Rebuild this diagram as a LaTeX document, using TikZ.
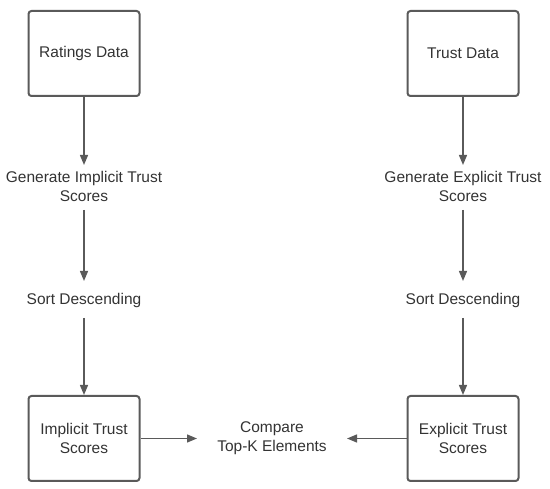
\documentclass[tikz,border=0pt]{standalone}
\usepackage{fontspec}
\setmainfont{Liberation Sans}
\usetikzlibrary{arrows.meta}
\definecolor{linec}{HTML}{5A5A5A}
\definecolor{textc}{HTML}{333333}
\begin{document}
\begin{tikzpicture}[x=1pt,y=-1pt,
  box/.style={draw=linec,line width=2pt,rounded corners=3pt,minimum width=111pt,minimum height=85pt,align=center,text=textc,font=\fontsize{15.5}{19}\selectfont},
  lbl/.style={align=center,text=textc,font=\fontsize{15.5}{19.5}\selectfont},
  conn/.style={draw=linec,line width=1.3pt,-{Triangle[length=10pt,width=8pt]}}]
\useasboundingbox (0,0) rectangle (550,489);
\node[box] (rd) at (84,53.5) {Ratings Data};
\node[box] (td) at (463,53.5) {Trust Data};
\node[lbl] (gi) at (84,186.5) {Generate Implicit Trust\\Scores};
\node[lbl] (ge) at (463,186.5) {Generate Explicit Trust\\Scores};
\node[lbl] (si) at (84,300) {Sort Descending};
\node[lbl] (se) at (463,300) {Sort Descending};
\node[box] (it) at (84,438.5) {Implicit Trust\\Scores};
\node[box] (et) at (463,438.5) {Explicit Trust\\Scores};
\node[lbl] (cmp) at (272,438) {Compare\\Top-K Elements};
\coordinate (a1) at (84,165);
\coordinate (a2) at (463,165);
\coordinate (b1) at (84,210);
\coordinate (b2) at (84,281);
\coordinate (c1) at (463,210);
\coordinate (c2) at (463,281);
\coordinate (d1) at (84,318);
\coordinate (d2) at (463,318);
\coordinate (e1) at (197,438.5);
\coordinate (e2) at (347,438.5);
\draw[conn] (rd.south) -- (a1);
\draw[conn] (td.south) -- (a2);
\draw[conn] (b1) -- (b2);
\draw[conn] (c1) -- (c2);
\draw[conn] (d1) -- (it.north);
\draw[conn] (d2) -- (et.north);
\draw[conn] (it.east) -- (e1);
\draw[conn] (et.west) -- (e2);
\end{tikzpicture}
\end{document}
